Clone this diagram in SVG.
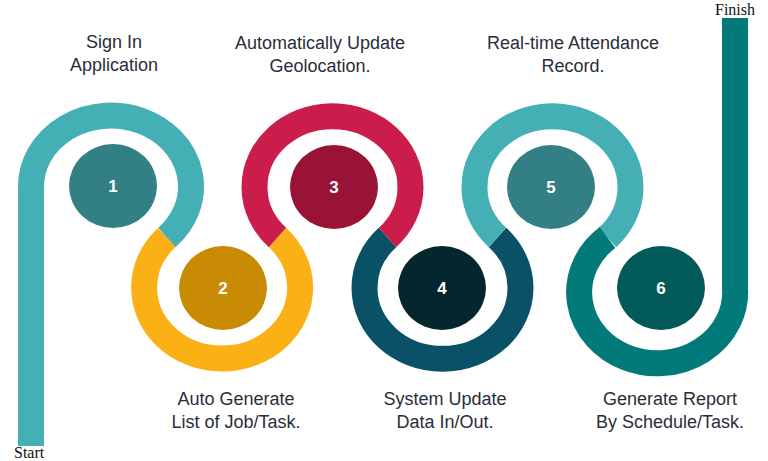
<svg xmlns="http://www.w3.org/2000/svg" width="768" height="461" viewBox="0 0 768 461">
<style>
.trk{fill:none;stroke-width:26;stroke-linecap:butt}
.lbl{font-family:"Liberation Sans",Arial,sans-serif;font-size:18px;fill:#2a2d3a;text-anchor:middle}
.num{font-family:"Liberation Sans",Arial,sans-serif;font-size:17px;font-weight:bold;fill:#ffffff;text-anchor:middle}
.ser{font-family:"Liberation Serif","Times New Roman",serif;font-size:16px;fill:#111111}
</style>
<rect width="768" height="461" fill="#ffffff"/>
<g id="connectors">
<path class="trk" stroke="#45afb6" d="M31,446 L31,187 A80,71 0 1 1 166.75,237.5"/>
<path class="trk" stroke="#fbb116" d="M166.75,237.5 A78,71 0 1 0 277.5,237.5"/>
<path class="trk" stroke="#cb1d4c" d="M277.5,237.5 A78,71 0 1 1 387.5,237.5"/>
<path class="trk" stroke="#0a5067" d="M387.5,237.5 A78,71 0 1 0 497.5,237.5"/>
<path class="trk" stroke="#45afb6" d="M497.5,237.5 A78,71 0 1 1 607.5,237.5"/>
<path class="trk" stroke="#027a79" d="M607.5,237.5 A78,71 0 1 0 735,288 L735,18"/>
</g>
<g id="start"><text class="ser" x="14" y="458">Start</text></g>
<g id="finish"><text class="ser" x="715" y="15">Finish</text></g>
<g id="step1">
<ellipse cx="113" cy="186" rx="44" ry="42" fill="#327f84"/>
<text class="num" x="113" y="192">1</text>
<text class="lbl" x="114" y="48">Sign In</text>
<text class="lbl" x="114" y="71">Application</text>
</g>
<g id="step2">
<ellipse cx="223" cy="288" rx="44" ry="42" fill="#c98a04"/>
<text class="num" x="223" y="294">2</text>
<text class="lbl" x="236" y="405">Auto Generate</text>
<text class="lbl" x="236" y="428">List of Job/Task.</text>
</g>
<g id="step3">
<ellipse cx="334" cy="187" rx="44" ry="42" fill="#991336"/>
<text class="num" x="334" y="193">3</text>
<text class="lbl" x="320" y="49">Automatically Update</text>
<text class="lbl" x="320" y="72">Geolocation.</text>
</g>
<g id="step4">
<ellipse cx="442" cy="288" rx="44" ry="42" fill="#04262f"/>
<text class="num" x="442" y="294">4</text>
<text class="lbl" x="445" y="405">System Update</text>
<text class="lbl" x="445" y="428">Data In/Out.</text>
</g>
<g id="step5">
<ellipse cx="551" cy="187" rx="44" ry="42" fill="#327f84"/>
<text class="num" x="551" y="193">5</text>
<text class="lbl" x="573" y="49">Real-time Attendance</text>
<text class="lbl" x="573" y="72">Record.</text>
</g>
<g id="step6">
<ellipse cx="661" cy="288" rx="44" ry="42" fill="#025b5a"/>
<text class="num" x="661" y="294">6</text>
<text class="lbl" x="670" y="405">Generate Report</text>
<text class="lbl" x="670" y="428">By Schedule/Task.</text>
</g>
</svg>
